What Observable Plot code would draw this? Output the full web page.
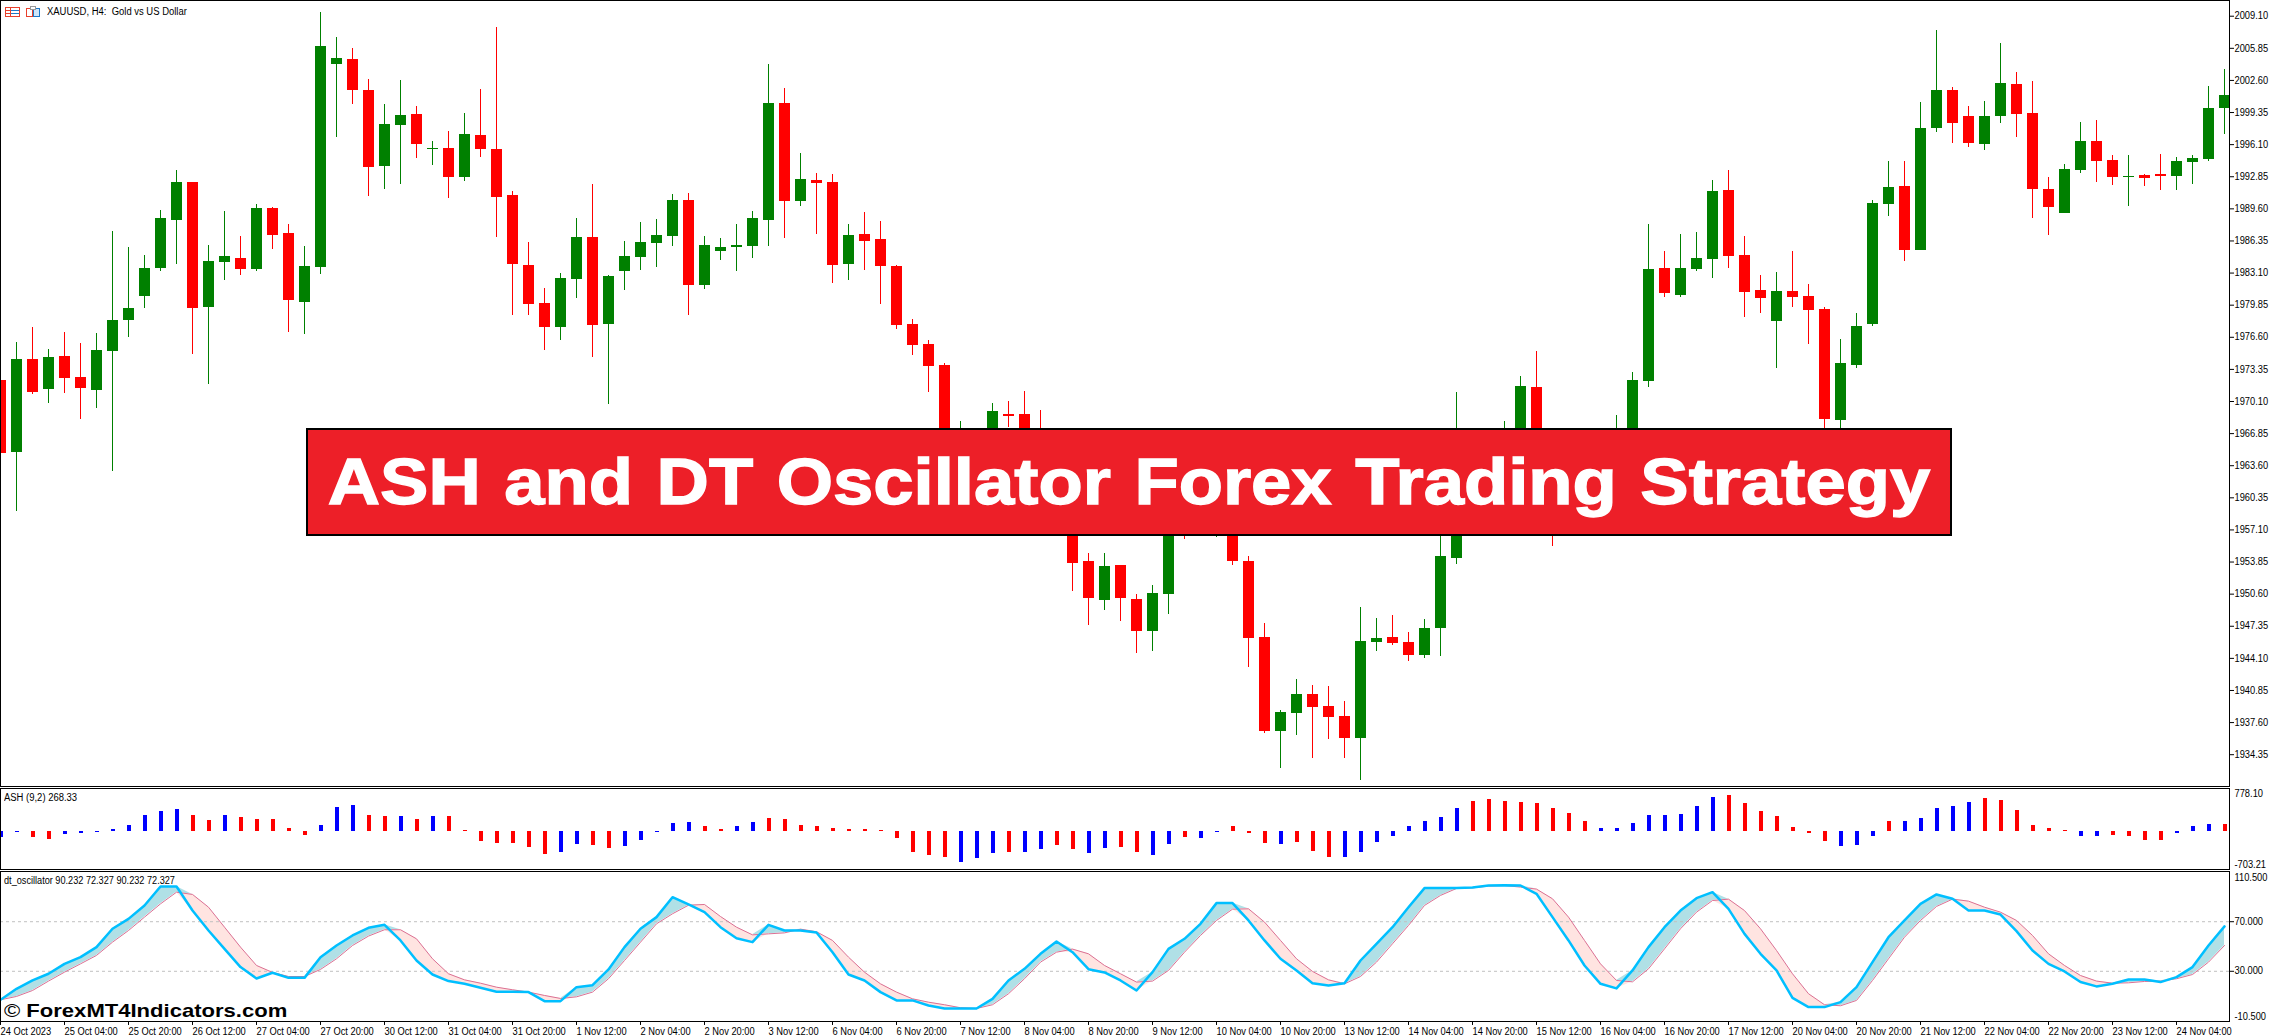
<!DOCTYPE html>
<html><head><meta charset="utf-8">
<script src="https://cdn.jsdelivr.net/npm/d3@7"></script>
<script src="https://cdn.jsdelivr.net/npm/@observablehq/plot@0.6"></script>
<style>
html,body{margin:0;padding:0;background:#fff;overflow:hidden}
#chart{position:relative;width:2271px;height:1036px;background:#fff;overflow:hidden}
#chart svg{position:absolute;left:0;display:block}
.lab{position:absolute;white-space:pre;font-family:"Liberation Sans",sans-serif;font-size:10px;line-height:12px;color:#000;transform-origin:0 0}
#banner{position:absolute;left:306px;top:428px;width:1642px;height:104px;border:2px solid #000;background:#ed1f28;overflow:hidden}
#banner span{display:block;color:#fff;font:bold 64px "Liberation Sans",Arial,sans-serif;white-space:pre;text-align:center;line-height:104px;word-spacing:3px;-webkit-text-stroke:1.3px #fff;transform:scaleX(1.132);transform-origin:50% 50%}
#wm{position:absolute;left:4px;top:1001px;font:bold 19px "Liberation Sans",Arial,sans-serif;line-height:20px;color:#000;white-space:pre;transform:scaleX(1.16);transform-origin:0 0}
#wm span{font-weight:normal}
</style></head><body><div id="chart"></div>
<script>
const open=[1972.23,1964.97,1974.35,1971.32,1974.66,1972.53,1971.21,1975.16,1978.30,1980.73,
1983.56,1988.42,1992.27,1979.62,1984.17,1984.58,1983.46,1989.64,1987.11,1980.12,
1983.66,2004.21,2004.72,2001.58,1993.89,1998.04,1999.15,1995.61,1995.71,1992.77,
1997.03,1995.61,1990.95,1983.87,1980.02,1977.59,1982.45,1986.70,1977.89,1983.26,
1984.68,1986.09,1986.80,1990.45,1981.84,1985.28,1985.69,1985.79,1988.42,2000.26,
1990.34,1992.47,1992.27,1983.97,1987.00,1986.50,1983.76,1977.89,1975.87,1973.74,
1964.13,1966.15,1963.45,1968.78,1968.78,1963.45,1960.08,1957.72,1953.91,1949.96,
1953.50,1950.06,1946.82,1950.56,1959.07,1960.75,1958.06,1958.73,1953.91,1946.21,
1936.70,1938.52,1940.44,1939.23,1938.22,1935.99,1945.71,1946.21,1945.71,1944.39,
1947.12,1954.21,1963.45,1965.14,1964.80,1965.48,1971.52,1963.45,1960.08,1958.73,
1960.08,1961.77,1966.83,1972.13,1983.56,1980.83,1983.46,1984.47,1991.46,1984.88,
1981.34,1978.20,1981.23,1980.73,1979.41,1968.18,1973.74,1977.89,1990.04,1991.86,
1985.38,1997.73,2001.58,1998.95,1996.11,1998.95,2002.19,1999.25,1991.56,1989.13,
1993.48,1996.42,1994.49,1992.77,1992.98,1993.08,1992.88,1994.29,1994.60,1999.76];
const close=[1964.87,1974.35,1971.05,1974.55,1972.43,1971.42,1975.26,1978.30,1979.51,1983.56,
1988.62,1992.27,1979.51,1984.27,1984.78,1983.46,1989.64,1986.90,1980.32,1983.76,
2006.03,2004.82,2001.58,1993.79,1998.14,1999.05,1996.11,1995.71,1992.77,1997.13,
1995.61,1990.75,1983.97,1979.92,1977.59,1982.55,1986.70,1977.79,1982.75,1984.78,
1986.20,1986.90,1990.45,1981.84,1985.89,1985.69,1985.89,1988.62,2000.26,1990.34,
1992.57,1992.17,1983.87,1986.90,1986.30,1983.76,1977.79,1975.77,1973.64,1964.13,
1966.15,1963.45,1969.09,1968.58,1963.45,1960.08,1957.38,1953.70,1950.16,1953.40,
1950.16,1946.82,1950.67,1958.06,1957.04,1958.73,1960.08,1953.91,1946.11,1936.70,
1938.62,1940.44,1939.13,1938.12,1935.99,1945.81,1946.11,1945.61,1944.39,1947.12,
1954.41,1963.45,1964.80,1964.47,1966.83,1971.62,1963.45,1960.08,1958.73,1960.08,
1961.77,1966.83,1972.23,1983.46,1981.03,1983.56,1984.58,1991.36,1984.78,1981.13,
1980.53,1981.23,1980.63,1979.31,1968.28,1973.95,1977.69,1990.14,1991.76,1985.38,
1997.73,2001.58,1998.24,1996.22,1998.95,2002.29,1999.15,1991.56,1989.74,1993.58,
1996.42,1994.39,1992.77,1992.88,1992.67,1992.88,1994.39,1994.70,1999.76,2001.07];
const high=[1972.90,1976.07,1977.59,1975.36,1977.09,1975.97,1976.98,1987.31,1985.69,1984.88,
1989.43,1993.48,1992.27,1985.89,1989.33,1986.80,1990.04,1989.74,1988.02,1985.79,
2009.48,2006.94,2005.83,2002.69,2000.16,2002.59,1999.96,1996.42,1997.43,1999.25,
2001.68,2007.96,1991.36,1986.20,1981.54,1983.06,1988.62,1992.07,1982.85,1986.30,
1988.22,1988.52,1991.05,1991.15,1986.80,1986.60,1988.02,1989.33,2004.21,2001.78,
1995.20,1993.18,1993.08,1988.02,1989.23,1988.32,1983.87,1978.40,1976.28,1973.95,
1968.08,1966.83,1969.90,1970.10,1971.11,1969.19,1961.77,1958.73,1954.72,1954.72,
1953.50,1950.56,1951.48,1960.08,1960.08,1961.77,1961.09,1960.08,1954.41,1947.63,
1938.82,1941.96,1941.35,1941.25,1939.73,1949.25,1948.14,1948.44,1946.72,1948.03,
1956.71,1971.01,1965.48,1965.82,1968.08,1972.63,1975.16,1965.14,1961.77,1960.75,
1963.45,1968.68,1973.04,1988.02,1985.28,1987.00,1987.21,1992.47,1993.48,1986.80,
1982.85,1983.16,1985.28,1981.94,1979.62,1976.38,1979.01,1990.45,1994.39,1994.39,
2000.37,2007.65,2001.88,1999.96,2000.47,2006.34,2003.40,2002.49,1992.77,1994.09,
1998.34,1998.54,1995.00,1995.00,1993.08,1995.10,1994.80,1995.00,2001.99,2003.71];
const low=[1963.45,1959.00,1970.81,1969.90,1970.91,1968.28,1969.39,1963.02,1976.58,1979.51,
1983.26,1983.97,1974.86,1971.82,1982.35,1982.85,1983.26,1985.49,1977.09,1976.88,
1982.96,1996.82,2000.16,1990.85,1991.56,1992.07,1994.70,1993.99,1990.65,1992.37,
1994.80,1986.70,1978.81,1978.81,1975.26,1976.28,1980.53,1974.55,1969.80,1981.34,
1983.36,1983.66,1985.79,1978.81,1981.44,1984.37,1983.26,1984.58,1985.79,1986.60,
1989.84,1987.00,1982.04,1982.35,1983.36,1979.92,1977.39,1974.76,1971.01,1963.45,
1963.12,1962.10,1962.78,1967.47,1962.44,1959.41,1956.71,1950.87,1947.43,1948.95,
1947.83,1944.59,1944.80,1948.54,1956.13,1957.38,1956.34,1953.50,1943.18,1936.50,
1932.95,1936.29,1933.97,1935.89,1933.97,1931.74,1944.80,1945.40,1943.78,1944.09,
1944.29,1953.60,1962.10,1962.44,1963.45,1964.47,1961.77,1955.42,1957.38,1957.72,
1959.07,1960.75,1965.82,1971.52,1980.63,1980.63,1983.26,1982.55,1983.56,1978.60,
1979.01,1973.44,1979.62,1975.87,1966.83,1966.15,1973.44,1977.69,1988.83,1984.27,
1985.38,1997.33,1996.22,1995.81,1995.51,1998.24,1996.82,1988.62,1986.90,1989.13,
1993.18,1992.27,1991.96,1989.84,1991.86,1991.46,1991.46,1992.07,1994.39,1997.13];
const ash=[-110,-20,-110,-146,-55,-37,-18,37,110,293,
366,402,293,201,293,256,220,220,55,-73,
110,439,476,293,274,274,220,274,274,18,
-183,-220,-220,-293,-421,-384,-238,-256,-311,-274,
-165,-18,146,165,91,37,91,165,238,220,
110,91,55,37,37,15,-128,-384,-439,-476,
-567,-494,-402,-384,-384,-329,-256,-329,-402,-311,
-293,-384,-439,-238,-110,-128,-18,91,-37,-220,
-238,-201,-366,-476,-476,-384,-201,-91,91,183,
256,421,549,585,549,530,512,421,329,183,
55,55,146,293,293,311,457,622,658,512,
366,274,73,-37,-183,-274,-256,-91,183,183,
238,421,457,530,604,567,384,110,55,18,
-91,-91,-73,-91,-165,-165,-37,91,128,128];
const ashColor="BBRRBBBBBBBBRRBRRRRRBBBRRBRBRRRRRRRBBRRBBBBBRRBBRRRRRRRRRRRRBBBRBBRRBBRRBBRBBRRRBRRRBBBBBBBBRRRRRRRRBBBBBBBBRRRRRRRBBBRBBBBBRRRRRRBBRRRRBBBR".split("");
const fast=[7.0,15.9,22.6,28.0,36.0,41.4,49.5,64.3,72.3,83.1,
98.4,98.4,79.0,62.9,48.1,33.4,24.2,28.8,24.7,24.7,
41.4,50.8,58.9,65.1,67.5,54.9,38.7,27.4,22.1,19.9,
16.7,13.5,13.5,13.2,5.9,5.9,17.2,18.8,31.5,49.5,
64.3,73.7,89.8,83.9,77.7,65.6,56.7,53.5,67.5,62.9,
62.9,61.3,45.4,27.4,22.6,13.2,6.5,6.5,2.4,0,
0,0,7.8,22.6,32.0,44.1,54.1,45.4,31.7,29.1,
22.6,14.5,29.3,48.1,56.2,68.3,85.0,85.0,71.0,54.9,
40.1,30.7,20.4,18.6,20.4,38.7,52.2,65.6,81.7,97.1,
97.1,97.1,97.6,99.2,99.5,99.2,92.5,73.7,54.9,34.7,
19.9,16.2,30.7,49.5,65.6,79.0,89.0,93.8,80.4,60.2,
44.1,30.7,8.6,1.1,1.1,5.1,17.2,37.4,57.5,71.0,
84.4,92.0,88.5,79.0,79.0,75.8,62.4,46.8,36.0,29.9,
21.3,17.8,19.9,23.4,23.4,21.3,25.3,33.4,50.8,66.2];
const slow=[7.0,9.7,14.5,22.1,29.3,36.0,42.8,53.5,62.9,73.7,
84.4,93.8,92.0,81.7,65.6,49.5,34.7,29.1,25.8,25.8,
31.5,40.1,50.8,58.4,63.5,63.5,56.2,40.1,28.0,23.1,
20.4,17.2,15.1,13.2,10.5,8.1,9.4,13.2,24.0,38.7,
53.5,68.3,76.4,83.3,83.9,74.2,65.6,59.4,60.2,61.0,
64.0,61.9,54.9,41.4,29.3,19.9,13.2,7.8,5.1,3.0,
0.6,0,3.0,11.9,24.0,37.4,45.4,47.9,44.1,34.7,
28.0,21.3,22.1,30.7,45.4,58.9,71.0,80.1,80.4,69.7,
54.9,40.1,29.9,23.1,19.9,25.8,37.4,52.2,67.0,83.1,
91.2,96.8,97.3,98.7,99.2,97.9,96.3,88.5,73.7,54.9,
36.0,22.6,21.5,32.0,48.1,64.3,77.7,87.1,88.2,79.0,
64.3,46.8,28.0,11.9,3.0,2.2,6.5,22.6,40.1,57.5,
71.0,82.3,88.2,86.6,81.7,77.7,71.0,58.9,44.1,34.7,
26.6,22.1,20.4,20.7,21.8,22.1,24.0,27.4,37.4,50.8];
const dateLabels=["24 Oct 2023","25 Oct 04:00","25 Oct 20:00","26 Oct 12:00","27 Oct 04:00","27 Oct 20:00","30 Oct 12:00","31 Oct 04:00","31 Oct 20:00","1 Nov 12:00","2 Nov 04:00","2 Nov 20:00","3 Nov 12:00","6 Nov 04:00","6 Nov 20:00","7 Nov 12:00","8 Nov 04:00","8 Nov 20:00","9 Nov 12:00","10 Nov 04:00","10 Nov 20:00","13 Nov 12:00","14 Nov 04:00","14 Nov 20:00","15 Nov 12:00","16 Nov 04:00","16 Nov 20:00","17 Nov 12:00","20 Nov 04:00","20 Nov 20:00","21 Nov 12:00","22 Nov 04:00","22 Nov 20:00","23 Nov 12:00","24 Nov 04:00"];
const priceTicks=[2009.10,2005.85,2002.60,1999.35,1996.10,1992.85,1989.60,1986.35,1983.10,1979.85,1976.60,1973.35,1970.10,1966.85,1963.60,1960.35,1957.10,1953.85,1950.60,1947.35,1944.10,1940.85,1937.60,1934.35];
const oscTicks=[70,30];
const barsPerDate=4;

const FONT='"Liberation Sans",sans-serif';
const idx=d3.range(open.length);
const candles=idx.map(i=>({i,o:open[i],h:high[i],l:low[i],c:close[i],up:close[i]>=open[i]}));
const xOpt={domain:[0,2229/16],range:[0,2229],axis:null};
const base={width:2271,marginLeft:0,marginRight:42,marginTop:0,
  style:{fontFamily:FONT,fontSize:"10px",background:"transparent",color:"#000",overflow:"hidden"}};
const chart=document.getElementById("chart");
function place(svg,top){svg.style.top=top+"px";chart.appendChild(svg);
  svg.querySelectorAll("text").forEach(t=>{const n=t.getComputedTextLength();
    t.setAttribute("textLength",(n*0.93).toFixed(1));t.setAttribute("lengthAdjust","spacingAndGlyphs");});}

const main=Plot.plot({...base,height:787,marginBottom:1,x:xOpt,
  y:{domain:[1931.13,2010.69],range:[786,0],axis:null},
  marks:[
    Plot.ruleX(candles,{x:"i",y1:"l",y2:"h",stroke:d=>d.up?"#008000":"#ff0000",strokeWidth:1,shapeRendering:"crispEdges"}),
    Plot.ruleX(candles,{x:"i",y1:"o",y2:"c",stroke:d=>d.up?"#008000":"#ff0000",strokeWidth:11,shapeRendering:"crispEdges"}),
    Plot.frame({stroke:"#000",strokeWidth:1}),
    Plot.axisY({anchor:"right",ticks:priceTicks,tickFormat:d3.format(".2f"),tickSize:4,tickPadding:1,label:null})
  ]});
place(main,0);

const ashData=idx.map(i=>({i,v:ash[i],k:ashColor[i]}));
const ashPanel=Plot.plot({...base,height:82,marginBottom:1,x:xOpt,
  y:{domain:[-703.21,778.10],range:[81,0],axis:null},
  color:{domain:["B","R"],range:["#0000ff","#ff0000"]},
  marks:[
    Plot.ruleX(ashData,{x:"i",y1:0,y2:"v",stroke:"k",strokeWidth:4,shapeRendering:"crispEdges"}),
    Plot.frame({stroke:"#000",strokeWidth:1}),
    Plot.text(["778.10"],{x:2229/16,y:778.10,text:d=>d,textAnchor:"start",dx:5,dy:5}),
    Plot.text(["-703.21"],{x:2229/16,y:-703.21,text:d=>d,textAnchor:"start",dx:5,dy:-5})
  ]});
place(ashPanel,788);

const osc=idx.map(i=>({i,f:fast[i],s:slow[i],hi:Math.max(fast[i],slow[i]),lo:Math.min(fast[i],slow[i])}));
const dateData=dateLabels.map((t,k)=>({t,i:k*barsPerDate}));
const oscPanel=Plot.plot({...base,height:165,marginBottom:15,x:xOpt,
  y:{domain:[-10.5,110.5],range:[150,0],axis:null},
  marks:[
    Plot.areaY(osc,{x:"i",y1:"s",y2:"hi",fill:"#b0e0e6"}),
    Plot.areaY(osc,{x:"i",y1:"s",y2:"lo",fill:"#ffe4e1"}),
    Plot.ruleY(oscTicks,{stroke:"#c0c0c0",strokeDasharray:"3,3",strokeWidth:1}),
    Plot.line(osc,{x:"i",y:"s",stroke:"#db7093",strokeWidth:1}),
    Plot.line(osc,{x:"i",y:"f",stroke:"#00bfff",strokeWidth:2.5}),
    Plot.frame({stroke:"#000",strokeWidth:1}),
    Plot.axisY({anchor:"right",ticks:oscTicks,tickFormat:d3.format(".3f"),tickSize:4,tickPadding:1,label:null}),
    Plot.text(["110.500"],{x:2229/16,y:110.5,text:d=>d,textAnchor:"start",dx:5,dy:6}),
    Plot.text(["-10.500"],{x:2229/16,y:-10.5,text:d=>d,textAnchor:"start",dx:5,dy:-5}),
    Plot.ruleX(dateData,{x:"i",y1:-10.5,y2:-13.7,stroke:"#000",strokeWidth:1}),
    Plot.text(dateData,{x:"i",y:-10.5,text:"t",textAnchor:"start",dy:10})
  ]});
place(oscPanel,871);

function label(text,left,top,sx){const d=document.createElement("div");d.className="lab";d.textContent=text;d.style.left=left+"px";d.style.top=top+"px";d.style.transform="scaleX("+sx+")";chart.appendChild(d);}
label("XAUUSD, H4:  Gold vs US Dollar",47,6,0.946);
label("ASH (9,2) 268.33",4,792,0.946);
label("dt_oscillator 90.232 72.327 90.232 72.327",4,875,0.915);

const icons=document.createElement("div");
icons.innerHTML='<svg width="44" height="20" style="position:absolute;left:0;top:0;"><rect x="5.5" y="7.5" width="14" height="9" fill="#fff" stroke="#e8402c"/><path d="M10.5 7v10" stroke="#e8402c"/><path d="M6 10.5h4M6 13.5h4" stroke="#e8402c"/><path d="M11 10.5h8M11 13.5h8" stroke="#1c78c8"/><rect x="26.5" y="8.5" width="6" height="8" fill="#fff" stroke="#e8402c"/><rect x="33.5" y="8.5" width="6" height="8" fill="#cfe6fa" stroke="#1c78c8"/><rect x="30.5" y="6.5" width="5" height="3" fill="#fff" stroke="#999"/></svg>';
chart.appendChild(icons);

const banner=document.createElement("div");banner.id="banner";banner.innerHTML="<span>ASH and DT Oscillator Forex Trading Strategy</span>";chart.appendChild(banner);
const wm=document.createElement("div");wm.id="wm";wm.innerHTML="<span>©</span> ForexMT4Indicators.com";chart.appendChild(wm);
</script></body></html>
